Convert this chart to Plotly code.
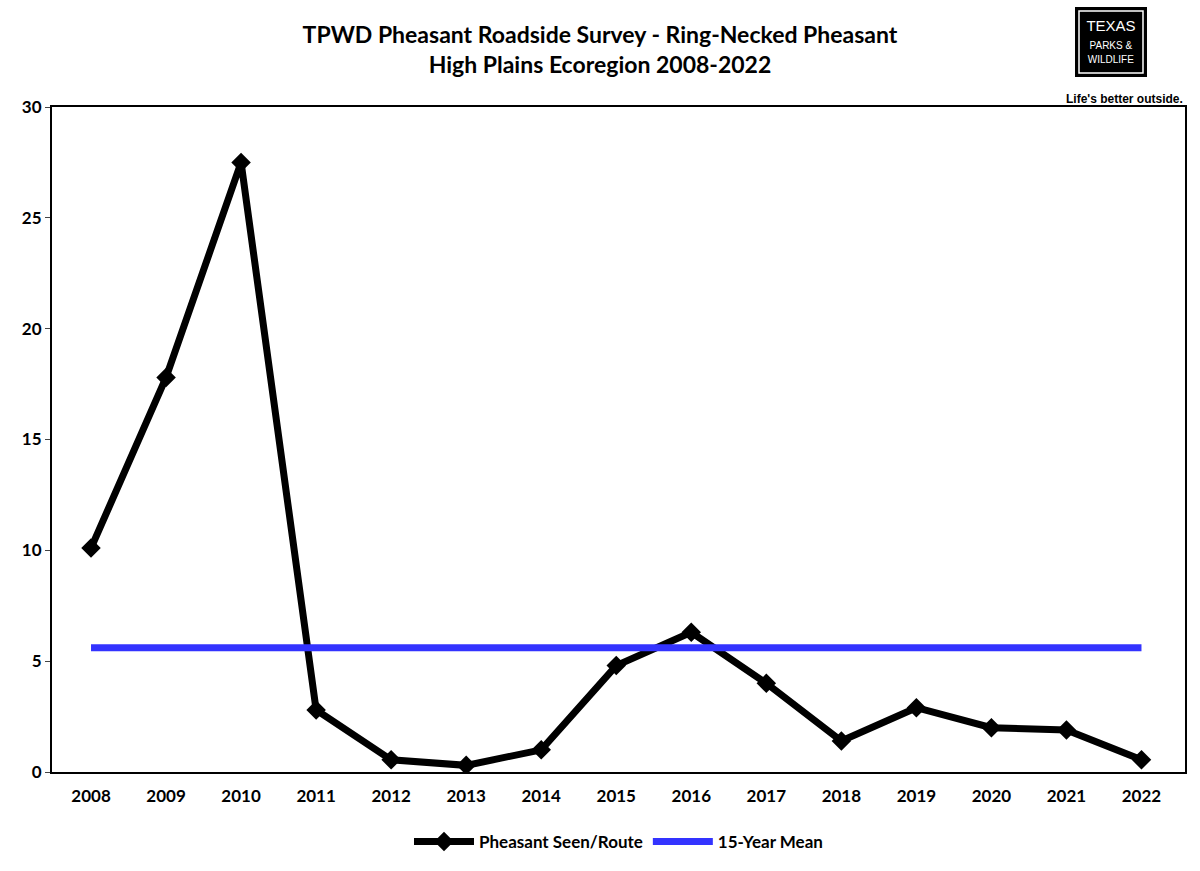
import plotly.graph_objects as go

years = [str(y) for y in range(2008, 2023)]
seen = [10.1, 17.8, 27.5, 2.8, 0.55, 0.3, 1.0, 4.8, 6.3, 4.0, 1.4, 2.9, 2.0, 1.9, 0.55]
mean_val = 5.6
mean = [mean_val] * len(years)

F = "Lato"
fig = go.Figure()
fig.add_trace(go.Scatter(x=years, y=seen, name="<b>Pheasant Seen/Route</b>", mode="lines+markers",
                         line=dict(color="black", width=7),
                         marker=dict(symbol="diamond", size=15, color="black")))
fig.add_trace(go.Scatter(x=years, y=mean, name="<b>15-Year Mean</b>", mode="lines",
                         line=dict(color="#3333ff", width=7)))
fig.update_layout(
    width=1200, height=871, paper_bgcolor="white", plot_bgcolor="white",
    margin=dict(l=52, r=15, t=107, b=99, autoexpand=False),
    font=dict(family=F, size=17, color="black"),
    title=dict(text="<b>TPWD Pheasant Roadside Survey - Ring-Necked Pheasant<br>High Plains Ecoregion 2008-2022</b>",
               x=0.5, xanchor="center", y=1-43/871, yanchor="middle", font=dict(size=23)),
    xaxis=dict(type="category", range=[-0.52, 14.58], showgrid=False, showline=True, mirror=True,
               linecolor="black", linewidth=2, ticks="", tickfont=dict(size=17, weight="bold"),
               ticklabelstandoff=8, automargin=False),
    yaxis=dict(range=[0, 30], dtick=5, showgrid=False, showline=True, mirror=True,
               linecolor="black", linewidth=2, ticks="outside", ticklen=5,
               tickfont=dict(size=17, weight="bold"), automargin=False),
    legend=dict(orientation="h", x=0.5, xanchor="center", y=-0.078, yanchor="top",
                font=dict(size=17), itemwidth=60),
)
def px(x): return (x-52)/1133
def py(y): return (772-y)/665
fig.add_shape(type="rect", xref="paper", yref="paper", x0=px(1075), x1=px(1147), y0=py(77), y1=py(7),
              fillcolor="black", line=dict(width=0), layer="below")
fig.add_shape(type="rect", xref="paper", yref="paper", x0=px(1079), x1=px(1143), y0=py(73), y1=py(11),
              fillcolor="black", line=dict(color="white", width=1.5), layer="below")
for txt, yy, sz in [("TEXAS", 25, 15), ("PARKS &amp;", 45, 10), ("WILDLIFE", 60, 10)]:
    fig.add_annotation(xref="paper", yref="paper", x=px(1111), y=py(yy), text=txt,
                       xanchor="center", yanchor="middle", width=64, align="center",
                       showarrow=False, font=dict(family="Liberation Sans", size=sz, color="white"))
fig.add_annotation(xref="paper", yref="paper", x=px(1185), xanchor="right", y=py(90),
                   text="<b>Life's better outside.</b>",
                   showarrow=False, font=dict(family="Liberation Sans", size=12, color="black"))
fig.write_html("out.html", config={"displayModeBar": False})
with open("out.html", encoding="utf-8") as f:
    html = f.read()
html = html.replace("<body>", "<body style=\"margin:0\">", 1)
with open("out.html", "w", encoding="utf-8") as f:
    f.write(html)
